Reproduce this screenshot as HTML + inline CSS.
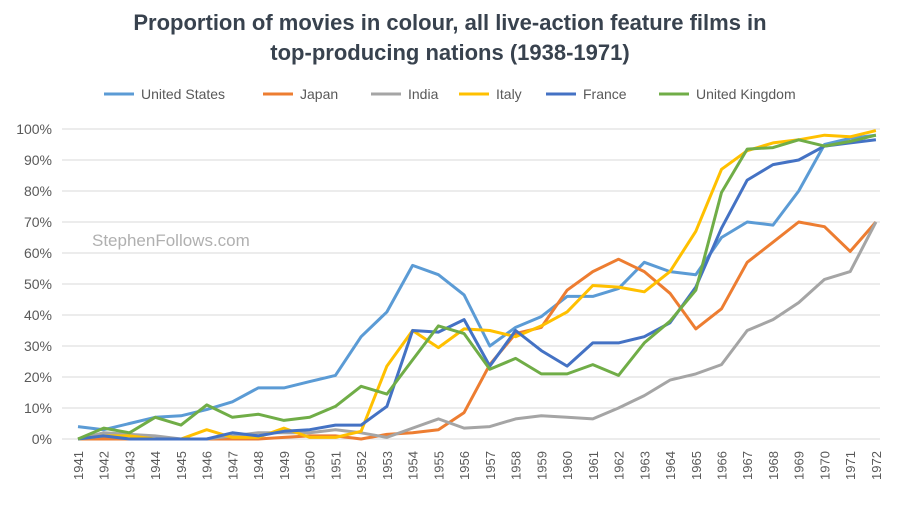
<!DOCTYPE html>
<html><head><meta charset="utf-8"><style>
body{margin:0;background:#fff;width:900px;height:501px;overflow:hidden;font-family:"Liberation Sans",sans-serif}
</style></head><body>
<svg id="s" width="900" height="501" xmlns="http://www.w3.org/2000/svg" font-family="Liberation Sans, sans-serif">
<text x="450" y="30" text-anchor="middle" font-size="22" font-weight="bold" fill="#38424e">Proportion of movies in colour, all live-action feature films in</text>
<text x="450" y="60" text-anchor="middle" font-size="22" font-weight="bold" fill="#38424e">top-producing nations (1938-1971)</text>
<text x="92" y="246" font-size="17" fill="#b0b0b0">StephenFollows.com</text>
<g id="g"></g>
</svg>
<script>
const g=document.getElementById('g');let h='';
const Y=v=>439-v*3.1, X=i=>78+i*25.74;
for(let v=0;v<=100;v+=10){h+=`<line x1="62" x2="880" y1="${Y(v)}" y2="${Y(v)}" stroke="#d9d9d9" stroke-width="1"/>`;
h+=`<text x="52" y="${Y(v)+5}" text-anchor="end" font-size="14" fill="#595959">${v}%</text>`;}
for(let i=0;i<32;i++){const x=X(i)+5;h+=`<text transform="translate(${x},480) rotate(-90)" font-size="13" fill="#595959">${1941+i}</text>`;}
const S=[
["United States","#5b9bd5",[4,3,5,7,7.5,9.5,12,16.5,16.5,18.5,20.5,33,41,56,53,46.5,30,36,39.5,46,46,48.5,57,54,53,65,70,69,80,95,97,98]],
["Japan","#ed7d31",[0,0,0,0,0,0,0,0,0.5,1,1,0,1.5,2,3,8.5,24,34,36,48,54,58,54,47,35.5,42,57,63.5,70,68.5,60.5,70]],
["India","#a5a5a5",[0,2,1.5,1,0,0,1,2,2,2,3,2,0.5,3.5,6.5,3.5,4,6.5,7.5,7,6.5,10,14,19,21,24,35,38.5,44,51.5,54,70]],
["Italy","#ffc000",[0,1,1,0,0,3,0.5,0.5,3.5,0.5,0.5,2.5,23.5,35,29.5,35.5,35,33,36.5,41,49.5,49,47.5,54,67,87,93,95.5,96.5,98,97.5,99.5]],
["France","#4472c4",[0,1,0,0,0,0,2,1,2.5,3,4.5,4.5,10.5,35,34.5,38.5,23.5,35,28.5,23.5,31,31,33,37.5,49,68,83.5,88.5,90,94.5,95.5,96.5]],
["United Kingdom","#70ad47",[0,3.5,2,7,4.5,11,7,8,6,7,10.5,17,14.5,25.5,36.5,34,22.5,26,21,21,24,20.5,31,38,48,79.5,93.5,94,96.5,94.5,96,98]]];
S.forEach(s=>{h+=`<polyline fill="none" stroke="${s[1]}" stroke-width="3" stroke-linejoin="round" points="${s[2].map((v,i)=>X(i).toFixed(1)+','+Y(v).toFixed(1)).join(' ')}"/>`;});
const lx=[104,263,371,459,546,659];
S.forEach((s,i)=>{h+=`<line x1="${lx[i]}" x2="${lx[i]+30}" y1="94" y2="94" stroke="${s[1]}" stroke-width="3"/><text x="${lx[i]+37}" y="99" font-size="14" fill="#595959">${s[0]}</text>`;});
g.innerHTML=h;
</script>
</body></html>
